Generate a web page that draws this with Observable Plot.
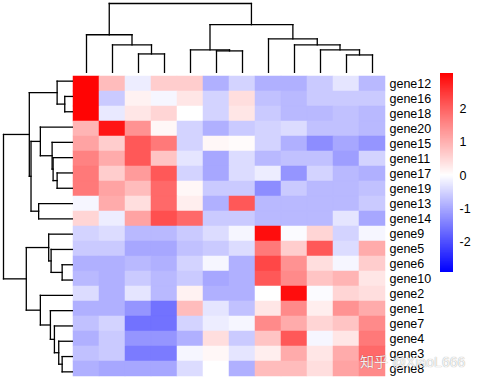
<!DOCTYPE html>
<html><head><meta charset="utf-8">
<script src="https://cdn.jsdelivr.net/npm/d3@7"></script>
<script src="https://cdn.jsdelivr.net/npm/@observablehq/plot@0.6"></script>
<style>
html,body{margin:0;padding:0;background:#fff;}
#chart{position:relative;width:480px;height:384px;overflow:hidden;font-family:"Liberation Sans",Arial,sans-serif;}
#chart svg{position:absolute;left:0;top:0;background:transparent;}
#wm{position:absolute;left:360px;top:351px;font-size:14px;color:rgba(255,255,255,0.92);text-shadow:0 0 1px rgba(0,0,0,0.45);font-family:"Liberation Sans","Noto Sans CJK SC",sans-serif;white-space:nowrap;}
</style></head><body><div id="chart"><div id="wm">知乎 @XiaoL666</div></div>
<script>
// Rows (display order, top to bottom)
const genes = ["gene12","gene16","gene18","gene20","gene15","gene11","gene17","gene19","gene13","gene14",
               "gene9","gene5","gene6","gene10","gene2","gene1","gene7","gene4","gene3","gene8"];
// Columns (display order, left to right; not labelled in the chart)
const samples = ["S1","S2","S3","S4","S5","S6","S7","S8","S9","S10","S11","S12"];
// Values, one row per gene, in sample order
const values = [
  [ 3.0,  0.8, -0.2,  0.6,  0.6, -0.9, -0.5, -0.9, -0.9, -0.6, -0.3, -0.8],
  [ 3.0, -0.6,  0.15,-0.1,  0.3, -0.5,  0.4, -0.7, -0.8, -0.6, -0.6, -0.6],
  [ 3.0, -0.25, 0.3,  0.5,  0.0, -0.5,  0.3, -0.6, -0.8, -0.8, -0.7, -0.8],
  [ 0.9,  2.8,  1.3,  0.1, -0.5, -0.9, -0.6, -0.5, -0.4, -0.7, -0.7, -0.8],
  [ 1.1,  0.6,  2.0,  1.6, -0.5,  0.1,  0.05,-0.5, -0.9, -1.3, -1.0, -1.2],
  [ 1.5,  1.0,  2.0,  0.7, -0.3, -1.0, -0.4, -0.8, -0.7, -0.7, -1.1, -0.5],
  [ 1.6,  0.6,  1.2,  2.0, -0.5, -1.0, -0.4, -0.2, -1.2, -0.5, -0.8, -0.9],
  [ 1.6,  1.1,  0.8,  1.8,  0.1, -0.6, -0.6, -1.3, -0.6, -0.8, -0.8, -0.7],
  [-0.1,  1.0,  0.4,  1.8,  0.2, -0.9,  2.0, -0.8, -0.8, -0.8, -0.8, -0.6],
  [ 0.5, -0.2,  1.1,  2.1,  1.8, -0.6, -0.6, -0.8, -0.8, -0.8, -0.3, -1.0],
  [-0.5, -0.4, -0.8, -0.8, -0.6, -0.4, -0.1,  2.9, -0.05, 0.5, -0.5, -0.1],
  [-0.6, -0.6, -1.0, -1.0, -0.7, -0.6, -0.4,  1.6,  0.6,  2.0, -0.4,  1.0],
  [-0.9, -0.9, -0.8, -0.9, -0.5, -0.1, -0.9,  2.2,  1.3,  0.4, -0.1,  0.6],
  [-0.8, -0.9, -0.6, -0.8, -0.6, -1.0, -0.9,  2.0,  1.4,  0.7,  0.9,  0.3],
  [-0.4, -0.9, -0.3, -0.8,  0.15,-0.9, -0.9,  0.0,  2.9, -0.05, 0.5,  0.4],
  [-0.9, -0.9, -1.2, -1.6,  0.8, -0.3, -0.7,  0.3,  1.4,  0.2,  1.3,  1.0],
  [-0.7, -0.5, -1.6, -1.6, -0.5, -0.2, -0.1,  1.4,  1.0,  0.5,  0.7,  1.4],
  [-0.9, -0.6, -1.2, -1.2, -0.9,  0.4, -0.6,  0.7,  2.0, -0.1,  0.3,  1.6],
  [-0.7, -0.6, -1.5, -1.5, -0.1,  0.1, -0.3,  0.2,  1.0,  0.3,  1.0,  1.8],
  [-0.9, -1.0, -1.0, -1.0, -0.4,  0.0, -0.9,  0.8,  0.8,  0.4,  1.1,  1.4]
];
// Column dendrogram (hclust style: -k = k-th displayed leaf, +j = j-th merge)
const colMerge = [[-3,-4],[-2,1],[-1,2],[-6,-7],[-5,4],[-11,-12],[-10,6],[-9,7],[-8,8],[5,9],[3,10]];
const colHeight = [19.4, 28.4, 38.4, 22.4, 23.4, 18.4, 23.4, 28.4, 34.4, 48.4, 69.4];
// Row dendrogram
const rowMerge = [[-2,-3],[-1,1],[-7,-8],[-6,3],[-5,4],[-4,5],[-9,-10],[6,7],[2,8],
                  [-13,-14],[-12,10],[-11,11],[-19,-20],[-18,13],[-17,14],[-16,15],[-15,16],[12,17],[9,18]];
const rowHeight = [8.7, 16.3, 16.3, 20.3, 21.3, 33, 34.7, 42.3, 44, 11.3, 22.3, 24.7, 11.3, 14.7, 19, 23, 33, 47, 69.7];
// Colour key
const colorMin = -2.9, colorMax = 3.05;
const legendTicks = [-2, -1, 0, 1, 2];

const font = "Liberation Sans, Arial, sans-serif";
const colorScale = {type: "linear", domain: [colorMin, 0, colorMax], range: ["#0000ff", "#ffffff", "#ff0000"], interpolate: "rgb"};

function dendroSegments(merge, heights) {
  const pos = [], hs = [], segs = [];
  const get = k => k < 0 ? {p: -k - 0.5, h: 0} : {p: pos[k - 1], h: hs[k - 1]};
  merge.forEach(([a, b], i) => {
    const A = get(a), B = get(b), H = heights[i];
    segs.push({p1: A.p, h1: A.h, p2: A.p, h2: H});
    segs.push({p1: B.p, h1: B.h, p2: B.p, h2: H});
    segs.push({p1: A.p, h1: H, p2: B.p, h2: H});
    pos.push((A.p + B.p) / 2); hs.push(H);
  });
  return segs;
}

const cells = genes.flatMap((g, i) => samples.map((s, j) => ({gene: g, sample: s, value: values[i][j]})));
const chart = document.getElementById("chart");

// Heatmap
const heat = Plot.plot({
  width: 480, height: 384, marginLeft: 73, marginRight: 95, marginTop: 73, marginBottom: 5,
  style: {fontFamily: font, background: "transparent"},
  x: {domain: samples, padding: 0, axis: null},
  y: {domain: genes, padding: 0, label: null},
  color: colorScale,
  marks: [
    Plot.cell(cells, {x: "sample", y: "gene", fill: "value", stroke: "value", strokeWidth: 0.5, inset: 0}),
    Plot.axisY({anchor: "right", tickSize: 0, tickPadding: 4, fontSize: 12.5, fill: "black", label: null})
  ]
});
chart.appendChild(heat);

// Top dendrogram
const colSegs = dendroSegments(colMerge, colHeight);
const topTree = Plot.plot({
  width: 480, height: 73, marginLeft: 73, marginRight: 95, marginTop: 3, marginBottom: 0,
  style: {background: "transparent"},
  x: {domain: [0, samples.length], axis: null},
  y: {domain: [0, d3.max(colHeight)], axis: null},
  marks: [Plot.link(colSegs, {x1: "p1", y1: "h1", x2: "p2", y2: "h2", stroke: "black", strokeWidth: 1.3, strokeLinecap: "square"})]
});
chart.appendChild(topTree);

// Left dendrogram
const rowSegs = dendroSegments(rowMerge, rowHeight);
const leftTree = Plot.plot({
  width: 73, height: 384, marginLeft: 3, marginRight: 0, marginTop: 73, marginBottom: 5,
  style: {background: "transparent"},
  x: {domain: [0, d3.max(rowHeight)], reverse: true, axis: null},
  y: {domain: [0, genes.length], reverse: true, axis: null},
  marks: [Plot.link(rowSegs, {x1: "h1", y1: "p1", x2: "h2", y2: "p2", stroke: "black", strokeWidth: 1.3, strokeLinecap: "square"})]
});
chart.appendChild(leftTree);

// Colour key
const step = (colorMax - colorMin) / 200;
const steps = d3.range(colorMin, colorMax, step);
const legend = Plot.plot({
  width: 480, height: 384, marginLeft: 440, marginRight: 27, marginTop: 73, marginBottom: 112,
  style: {fontFamily: font, background: "transparent"},
  x: {domain: [0, 1], axis: null},
  y: {domain: [colorMin, colorMax], label: null},
  color: colorScale,
  marks: [
    Plot.rect(steps, {x1: 0, x2: 1, y1: d => d, y2: d => Math.min(d + step * 1.5, colorMax), fill: d => d + step / 2}),
    Plot.axisY(legendTicks, {anchor: "right", tickSize: 0, tickPadding: 6, fontSize: 12.5, fill: "black", label: null, tickFormat: d => String(d)})
  ]
});
chart.appendChild(legend);
chart.appendChild(document.getElementById("wm"));
</script></body></html>
